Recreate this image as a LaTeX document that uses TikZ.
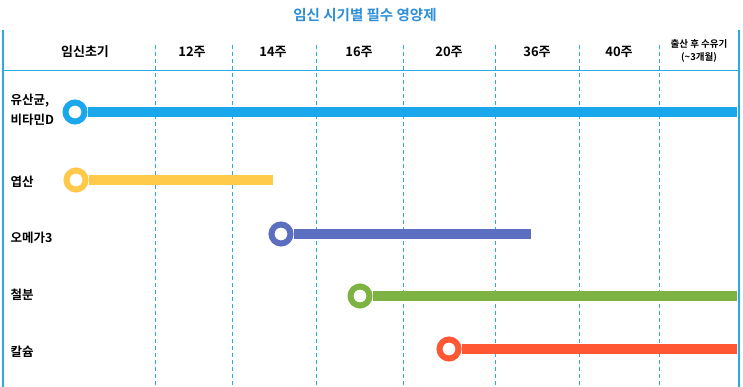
\documentclass[tikz,border=0pt]{standalone}
\usepackage{fontspec}
\setmainfont{Noto Sans CJK KR Bold}
\definecolor{lineblue}{HTML}{29ABE2}
\definecolor{titleblue}{HTML}{2E8FD8}
\definecolor{probiocol}{HTML}{1AA7EC}
\definecolor{folcol}{HTML}{FFC94A}
\definecolor{omegacol}{HTML}{5C6EBF}
\definecolor{ironcol}{HTML}{7CB342}
\definecolor{calcol}{HTML}{FF5733}
\tikzset{
 ring/.style={circle, draw=#1, line width=6pt, fill=white, minimum size=19pt, inner sep=0pt},
 bar/.style={#1, line width=10pt},
 head/.style={font=\fontsize{13}{15}\selectfont},
 lab/.style={anchor=west, align=left, font=\fontsize{12.5}{20}\selectfont},
 gridline/.style={lineblue, dash pattern=on 4pt off 3pt, line width=1pt}
}

\begin{document}
\begin{tikzpicture}[x=1pt,y=-1pt]
\useasboundingbox (0,0) rectangle (743,387);
\node[font=\fontsize{14.5}{16}\selectfont, text=titleblue] (title) at (365,15) {임신 시기별 필수 영양제};
\draw[lineblue, line width=2.5pt] (3,30) -- (3,387);
\draw[lineblue, line width=2.5pt] (739,30) -- (739,387);
\draw[lineblue, line width=1pt] (3,70.5) -- (739,70.5);
\foreach \x in {155,232,316,403,495,579,659}
  \draw[gridline] (\x,45) -- (\x,387);
\foreach \x/\t [count=\i] in {85/임신초기,192/12주,273/14주,359/16주,449/20주,537/36주,619/40주}
  \node[head] (head\i) at (\x,52) {\t};
\node[font=\fontsize{9.5}{13}\selectfont, align=center] (head8) at (699,51) {출산 후 수유기\\(\textasciitilde3개월)};

\node[lab] (probiolab) at (7,110) {유산균,\\비타민D};
\node[lab] (follab) at (7,182) {엽산};
\node[lab] (omegalab) at (7,238) {오메가3};
\node[lab] (ironlab) at (7,295) {철분};
\node[lab] (callab) at (7,352) {칼슘};

\node[ring=probiocol] (probio) at (75,112) {};
\node[ring=folcol] (fol) at (76,180) {};
\node[ring=omegacol] (omega) at (281,234) {};
\node[ring=ironcol] (iron) at (360,296) {};
\node[ring=calcol] (cal) at (449,349) {};
\coordinate (probioend) at (737,112);
\coordinate (folend) at (273,180);
\coordinate (omegaend) at (531,234);
\coordinate (ironend) at (737,296);
\coordinate (calend) at (737,349);
\draw[bar=probiocol] (probio.east) -- (probioend);
\draw[bar=folcol] (fol.east) -- (folend);
\draw[bar=omegacol] (omega.east) -- (omegaend);
\draw[bar=ironcol] (iron.east) -- (ironend);
\draw[bar=calcol] (cal.east) -- (calend);
\end{tikzpicture}
\end{document}
